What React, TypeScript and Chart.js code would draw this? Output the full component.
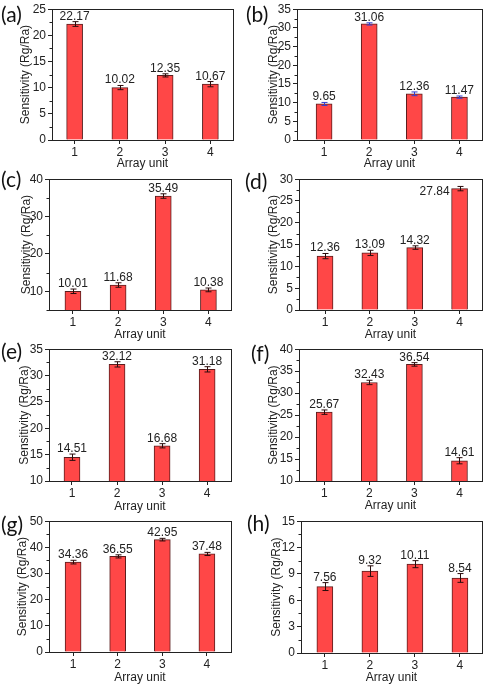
import React, { useEffect, useRef } from "react";
import { Chart, registerables } from "chart.js";

Chart.register(...registerables);

// ---------- data ----------
const categories = [1, 2, 3, 4];

const valuesA = [22.17, 10.02, 12.35, 10.67];
const errorsA = [0.45, 0.4, 0.3, 0.5];
const yTicksA = [0, 5, 10, 15, 20, 25];

const valuesB = [9.65, 31.06, 12.36, 11.47];
const errorsB = [0.4, 0.3, 0.5, 0.3];
const yTicksB = [0, 5, 10, 15, 20, 25, 30, 35];

const valuesC = [10.01, 11.68, 35.49, 10.38];
const errorsC = [0.6, 0.6, 0.6, 0.5];
const yTicksC = [10, 20, 30, 40];

const valuesD = [12.36, 13.09, 14.32, 27.84];
const errorsD = [0.6, 0.6, 0.4, 0.5];
const yTicksD = [0, 5, 10, 15, 20, 25, 30];

const valuesE = [14.51, 32.12, 16.68, 31.18];
const errorsE = [0.6, 0.5, 0.4, 0.5];
const yTicksE = [10, 15, 20, 25, 30, 35];

const valuesF = [25.67, 32.43, 36.54, 14.61];
const errorsF = [0.5, 0.5, 0.4, 0.7];
const yTicksF = [10, 15, 20, 25, 30, 35, 40];

const valuesG = [34.36, 36.55, 42.95, 37.48];
const errorsG = [0.7, 0.6, 0.5, 0.6];
const yTicksG = [0, 10, 20, 30, 40, 50];

const valuesH = [7.56, 9.32, 10.11, 8.54];
const errorsH = [0.45, 0.6, 0.4, 0.5];
const yTicksH = [0, 3, 6, 9, 12, 15];

const panelLabels = ["(a)", "(b)", "(c)", "(d)", "(e)", "(f)", "(g)", "(h)"];
const xTitle = "Array unit";
const yTitle = "Sensitivity (Rg/Ra)";

// ---------- layout / style ----------
const FONT = "'Liberation Sans', Arial, sans-serif";
const TEXT = "#222";
const BAR_FILL = "#ff4747";
const BAR_EDGE = "#5a1e1e";
const ERR_DARK = "#2a0c0c";
const ERR_BLUE = "#2f3fd0";

type Panel = {
  label: string;
  values: number[];
  errors: number[];
  yTicks: number[];
  yMin: number;
  yMax: number;
  xMin: number;
  xMax: number;
  plot: { l: number; t: number; r: number; b: number };
  yTitleX: number;
  xTitleY: number;
  canvas: { x: number; y: number; w: number; h: number };
  labelPos: { x: number; y: number };
  errColor: string;
  sideLabel?: number;
};

const panels: Panel[] = [
  {
    label: panelLabels[0], values: valuesA, errors: errorsA, yTicks: yTicksA,
    yMin: 0, yMax: 25, xMin: 0.5, xMax: 4.5,
    plot: { l: 52, t: 6, r: 233, b: 140 }, yTitleX: 26, xTitleY: 164,
    canvas: { x: 0, y: 0, w: 242, h: 172 }, labelPos: { x: 1, y: 13 }, errColor: ERR_DARK,
  },
  {
    label: panelLabels[1], values: valuesB, errors: errorsB, yTicks: yTicksB,
    yMin: 0, yMax: 35, xMin: 0.4, xMax: 4.5,
    plot: { l: 297, t: 6, r: 482, b: 140 }, yTitleX: 274, xTitleY: 164,
    canvas: { x: 242, y: 0, w: 243, h: 172 }, labelPos: { x: 246, y: 13 }, errColor: ERR_BLUE,
  },
  {
    label: panelLabels[2], values: valuesC, errors: errorsC, yTicks: yTicksC,
    yMin: 5, yMax: 40, xMin: 0.47, xMax: 4.5,
    plot: { l: 49, t: 178, r: 231, b: 310 }, yTitleX: 27, xTitleY: 335,
    canvas: { x: 0, y: 170, w: 242, h: 172 }, labelPos: { x: 1, y: 178 }, errColor: ERR_DARK,
  },
  {
    label: panelLabels[3], values: valuesD, errors: errorsD, yTicks: yTicksD,
    yMin: 0, yMax: 30, xMin: 0.42, xMax: 4.5,
    plot: { l: 299, t: 177, r: 482, b: 310 }, yTitleX: 274, xTitleY: 336,
    canvas: { x: 242, y: 170, w: 243, h: 172 }, labelPos: { x: 245, y: 180 }, errColor: ERR_DARK,
    sideLabel: 3,
  },
  {
    label: panelLabels[4], values: valuesE, errors: errorsE, yTicks: yTicksE,
    yMin: 10, yMax: 35, xMin: 0.49, xMax: 4.53,
    plot: { l: 49, t: 348, r: 231, b: 481 }, yTitleX: 25, xTitleY: 507,
    canvas: { x: 0, y: 340, w: 242, h: 174 }, labelPos: { x: 1, y: 350 }, errColor: ERR_DARK,
  },
  {
    label: panelLabels[5], values: valuesF, errors: errorsF, yTicks: yTicksF,
    yMin: 10, yMax: 40, xMin: 0.44, xMax: 4.5,
    plot: { l: 299, t: 348, r: 482, b: 481 }, yTitleX: 274, xTitleY: 506,
    canvas: { x: 242, y: 340, w: 243, h: 174 }, labelPos: { x: 251, y: 352 }, errColor: ERR_DARK,
  },
  {
    label: panelLabels[6], values: valuesG, errors: errorsG, yTicks: yTicksG,
    yMin: 0, yMax: 50, xMin: 0.46, xMax: 4.54,
    plot: { l: 49, t: 519, r: 231, b: 652 }, yTitleX: 23, xTitleY: 677.5,
    canvas: { x: 0, y: 512, w: 242, h: 173 }, labelPos: { x: 1, y: 523 }, errColor: ERR_DARK,
  },
  {
    label: panelLabels[7], values: valuesH, errors: errorsH, yTicks: yTicksH,
    yMin: 0, yMax: 15, xMin: 0.47, xMax: 4.49,
    plot: { l: 301, t: 520, r: 482, b: 653 }, yTitleX: 277, xTitleY: 677.5,
    canvas: { x: 242, y: 512, w: 243, h: 173 }, labelPos: { x: 247, y: 522 }, errColor: ERR_DARK,
  },
];

function PanelChart({ p }: { p: Panel }) {
  const ref = useRef<HTMLCanvasElement | null>(null);
  const c = p.canvas;

  useEffect(() => {
    if (!ref.current) return;
    const half = 7.2; // half of title line height (12px * 1.2 / 2)
    const padLeft = p.yTitleX - half - c.x;
    const yAxisW = p.plot.l - c.x - padLeft;
    const padTop = p.plot.t - c.y;
    const padRight = c.x + c.w - p.plot.r;
    const padBottom = Math.max(0, c.y + c.h - (p.xTitleY + half));
    const xAxisH = c.y + c.h - padBottom - p.plot.b;

    const decor = {
      id: "decor",
      afterDatasetsDraw(chart: any) {
        const ctx = chart.ctx;
        const xs = chart.scales.x;
        const ys = chart.scales.y;
        const area = chart.chartArea;
        ctx.save();
        // error bars
        ctx.strokeStyle = p.errColor;
        ctx.lineWidth = 1;
        categories.forEach((cat, i) => {
          const x = Math.round(xs.getPixelForValue(cat)) + 0.5;
          const yt = ys.getPixelForValue(p.values[i] + p.errors[i]);
          const yb = ys.getPixelForValue(p.values[i] - p.errors[i]);
          ctx.beginPath();
          ctx.moveTo(x, yt);
          ctx.lineTo(x, yb);
          ctx.moveTo(x - 3, yt);
          ctx.lineTo(x + 3, yt);
          ctx.moveTo(x - 3, yb);
          ctx.lineTo(x + 3, yb);
          ctx.stroke();
        });
        // value labels
        ctx.fillStyle = TEXT;
        ctx.font = `12px ${FONT}`;
        categories.forEach((cat, i) => {
          const x = xs.getPixelForValue(cat);
          if (p.sideLabel === i) {
            const y = ys.getPixelForValue(p.values[i]);
            ctx.textAlign = "right";
            ctx.textBaseline = "middle";
            ctx.fillText(p.values[i].toFixed(2), x - 10, y + 3);
          } else {
            const yt = ys.getPixelForValue(p.values[i] + p.errors[i]);
            ctx.textAlign = "center";
            ctx.textBaseline = "alphabetic";
            ctx.fillText(p.values[i].toFixed(2), x, yt - 2);
          }
        });
        // minor y ticks
        ctx.strokeStyle = "#222";
        const t = p.yTicks;
        const step = t[1] - t[0];
        const minors: number[] = [];
        for (let k = 0; k < t.length - 1; k++) minors.push((t[k] + t[k + 1]) / 2);
        if (t[0] - step / 2 >= p.yMin) minors.push(t[0] - step / 2);
        if (t[t.length - 1] + step / 2 <= p.yMax) minors.push(t[t.length - 1] + step / 2);
        ctx.beginPath();
        minors.forEach((m) => {
          const y = Math.round(ys.getPixelForValue(m)) + 0.5;
          ctx.moveTo(area.left, y);
          ctx.lineTo(area.left - 2.5, y);
        });
        ctx.stroke();
        // frame
        ctx.strokeStyle = "#222";
        ctx.lineWidth = 1;
        ctx.strokeRect(
          Math.round(area.left) + 0.5,
          Math.round(area.top) + 0.5,
          Math.round(area.right - area.left),
          Math.round(area.bottom - area.top)
        );
        ctx.restore();
      },
    };

    const chart = new Chart(ref.current, {
      type: "bar",
      data: {
        datasets: [
          {
            data: categories.map((x, i) => ({ x, y: p.values[i] })),
            backgroundColor: BAR_FILL,
            borderColor: BAR_EDGE,
            borderWidth: 1,
            barThickness: 16,
          } as any,
        ],
      },
      options: {
        animation: false,
        responsive: false,
        maintainAspectRatio: false,
        layout: { padding: { left: padLeft, top: padTop, right: padRight, bottom: padBottom } },
        plugins: { legend: { display: false }, tooltip: { enabled: false } },
        scales: {
          x: {
            type: "linear",
            min: p.xMin,
            max: p.xMax,
            offset: false,
            afterBuildTicks: (s: any) => {
              s.ticks = categories.map((v) => ({ value: v }));
            },
            afterFit: (s: any) => {
              s.height = xAxisH;
            },
            grid: {
              display: true,
              offset: false,
              drawOnChartArea: false,
              drawTicks: true,
              tickLength: 4,
              color: "#222",
              lineWidth: 1,
            },
            border: { display: true, color: "#222", width: 1 },
            ticks: {
              color: TEXT,
              font: { family: FONT, size: 12 },
              padding: 1,
              maxRotation: 0,
              autoSkip: false,
              callback: (v: any) => String(v),
            },
            title: { display: true, text: xTitle, color: TEXT, font: { family: FONT, size: 12 }, padding: 0 },
          },
          y: {
            type: "linear",
            min: p.yMin,
            max: p.yMax,
            afterBuildTicks: (s: any) => {
              s.ticks = p.yTicks.map((v) => ({ value: v }));
            },
            afterFit: (s: any) => {
              s.width = yAxisW;
            },
            grid: { display: true, drawOnChartArea: false, drawTicks: true, tickLength: 4, color: "#222", lineWidth: 1 },
            border: { display: true, color: "#222", width: 1 },
            ticks: {
              color: TEXT,
              font: { family: FONT, size: 12 },
              padding: 2,
              autoSkip: false,
              callback: (v: any) => String(v),
            },
            title: { display: true, text: yTitle, color: TEXT, font: { family: FONT, size: 12 }, padding: 0 },
          },
        },
      } as any,
      plugins: [decor],
    });
    return () => chart.destroy();
  }, []);

  return (
    <canvas
      ref={ref}
      width={c.w}
      height={c.h}
      style={{ position: "absolute", left: c.x, top: c.y, width: c.w, height: c.h }}
    />
  );
}

export default function App() {
  return (
    <div
      style={{
        position: "absolute",
        left: 0,
        top: 0,
        width: 485,
        height: 685,
        background: "#fff",
        overflow: "hidden",
      }}
    >
      {panels.map((p) => (
        <PanelChart key={p.label} p={p} />
      ))}
      {panels.map((p) => (
        <div
          key={p.label + "-lbl"}
          style={{
            position: "absolute",
            left: p.labelPos.x,
            top: p.labelPos.y,
            transform: "translateY(-50%)",
            fontFamily: "Lato, 'Open Sans', sans-serif",
            fontSize: 21,
            lineHeight: 1,
            color: "#111",
          }}
        >
          {p.label}
        </div>
      ))}
    </div>
  );
}
